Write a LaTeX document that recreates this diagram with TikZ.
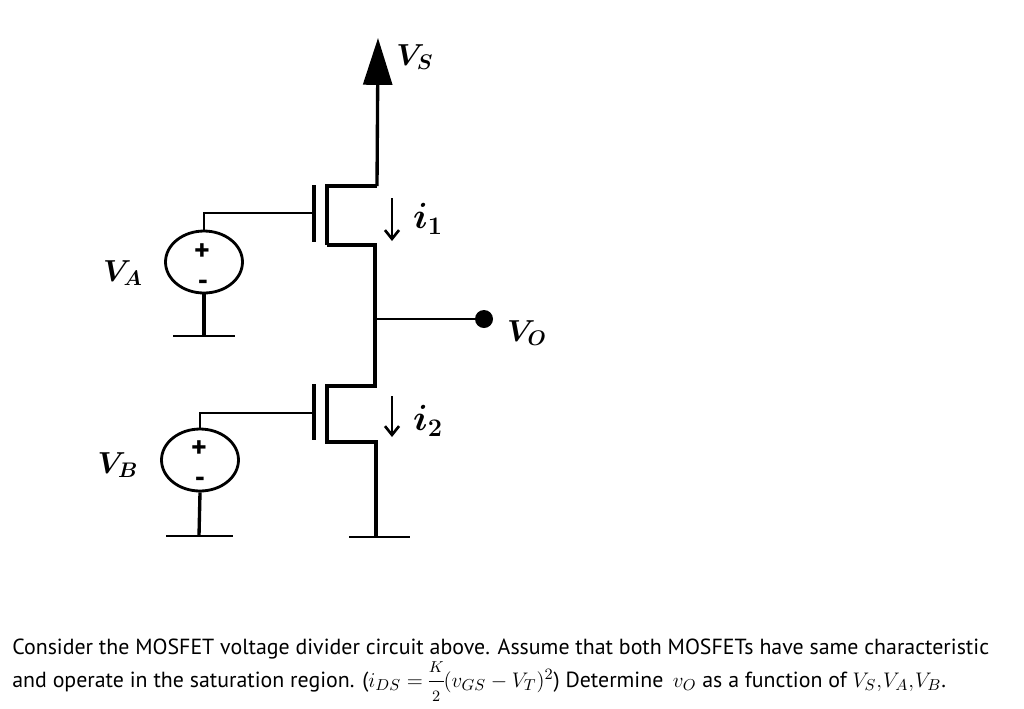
\documentclass[tikz,border=0pt]{standalone}
\usepackage{amsmath, amssymb}
\usepackage{fontspec}
\setmainfont{PT Sans}
\usepackage{tikz}
\usetikzlibrary{arrows.meta, shapes.geometric, positioning}
\tikzset{
  wire/.style={line width=1.9pt},
  gatewire/.style={line width=1.6pt},
  srcnode/.style={draw, ellipse, line width=1.6pt, minimum width=1.54cm, minimum height=1.24cm, inner sep=0pt},
  symb/.style={font=\fontsize{18}{20}\selectfont\boldmath, inner sep=0pt},
  symbi/.style={font=\fontsize{22}{24}\selectfont\boldmath, inner sep=0pt},
  sign/.style={font=\bfseries\fontsize{17}{17}\selectfont, inner sep=0pt},
  prose/.style={anchor=base west, inner sep=0pt, font=\fontsize{12.45}{15}\selectfont},
  curr/.style={-{Straight Barb[length=5pt, width=8pt]}, line width=1.5pt}
}
\begin{document}
\begin{tikzpicture}[x=0.02cm, y=-0.02cm]
\useasboundingbox (0,0) rectangle (1024,708);
% upper transistor
\coordinate (tipS) at (378,38);
\coordinate (drainA) at (377,186);
\coordinate (stubA) at (327,186);
\coordinate (chanA) at (327,245);
\coordinate (srcA) at (375,245);
\coordinate (plateAt) at (314,185);
\coordinate (plateAb) at (314,242);
\coordinate (gateA) at (314,213);
\coordinate (cornerA) at (204,213);
% lower transistor
\coordinate (drainB) at (375,386);
\coordinate (stubB) at (327,386);
\coordinate (chanB) at (327,442);
\coordinate (srcB) at (376,442);
\coordinate (plateBt) at (314,384);
\coordinate (plateBb) at (314,440);
\coordinate (gateB) at (314,413);
\coordinate (cornerB) at (200,413);
% grounds
\coordinate (gndA) at (204,336);
\coordinate (gndAl) at (173,336);
\coordinate (gndAr) at (235,336);
\coordinate (gndB) at (199,536);
\coordinate (gndBl) at (166,536);
\coordinate (gndBr) at (233,536);
\coordinate (gndC) at (376,537);
\coordinate (gndCl) at (349,537);
\coordinate (gndCr) at (410,537);
\coordinate (outJ) at (375,319);
% sources and output
\node[srcnode] (srcVA) at (204,262) {};
\node[srcnode] (srcVB) at (200,460) {};
\node[circle, fill=black, minimum size=0.36cm, inner sep=0pt] (dotO) at (484,319) {};
\node[sign] (plusA) at (202,252) {+};
\node[sign] (minusA) at (203,285) {-};
\node[sign] (plusB) at (199,449) {+};
\node[sign] (minusB) at (200,482) {-};
% wires
\draw[wire, -{Triangle[length=47*0.567pt, width=29*0.567pt]}] (drainA) -- (tipS);
\draw[wire] (stubA |- chanA) -- (stubA) -- (drainA);
\draw[wire] (chanA) -- (srcA) -- (drainB) -- (stubB) -- (chanB) -- (srcB) -- (gndC);
\draw[wire] (plateAt) -- (plateAb);
\draw[wire] (plateBt) -- (plateBb);
\draw[gatewire] (gateA) -- (cornerA) -- (srcVA.north);
\draw[gatewire] (gateB) -- (cornerB) -- (srcVB.north);
\draw[wire] (srcVA.south) -- (gndA);
\draw[wire] (srcVB.south) -- (gndB);
\draw[gatewire] (gndAl) -- (gndAr);
\draw[gatewire] (gndBl) -- (gndBr);
\draw[gatewire] (gndCl) -- (gndCr);
\draw[gatewire] (outJ) -- (dotO);
% currents
\coordinate (curA1) at (392,198);
\coordinate (curA2) at (392,241);
\coordinate (curB1) at (392,396);
\coordinate (curB2) at (392,437);
\draw[curr] (curA1) -- (curA2);
\draw[curr] (curB1) -- (curB2);
% labels
\node[symb] (lblVS) at (415,57) {$V_S$};
\node[symb] (lblVA) at (123,273) {$V_A$};
\node[symb] (lblVB) at (118,465) {$V_B$};
\node[symb] (lblVO) at (527,333) {$V_O$};
\node[symbi] (lblI1) at (428,219) {$i_1$};
\node[symbi] (lblI2) at (428,421) {$i_2$};
\node[prose] (textA) at (12,654) {Consider the MOSFET voltage divider circuit above. Assume that both MOSFETs have same characteristic};
\node[prose] (textB) at (12,687) {\thickmuskip=5mu\medmuskip=4mu\nulldelimiterspace=0pt and operate in the saturation region. ($i_{DS}=\dfrac{\scriptstyle K}{\scriptstyle 2}(v_{GS}-V_T)^2$)~Determine~\,$v_O$ as a function of $V_S,\mkern-7mu\ V_A,\mkern-7mu\ V_B$.};
\end{tikzpicture}
\end{document}
